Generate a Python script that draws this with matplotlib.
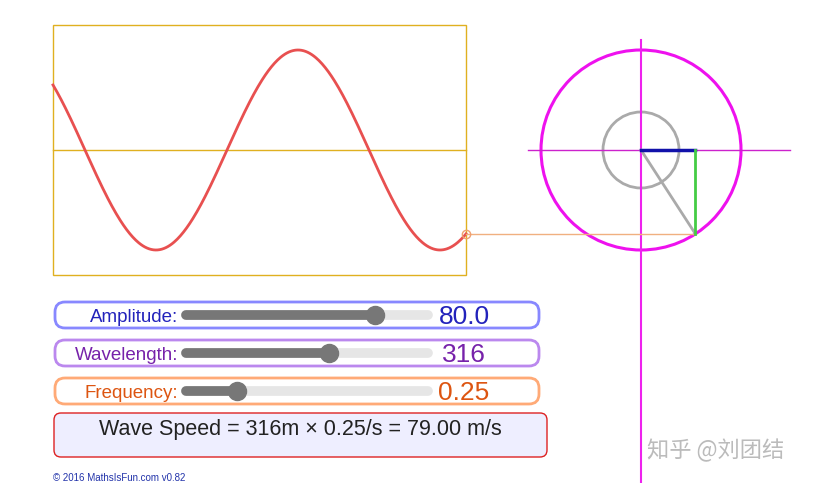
import numpy as np
import matplotlib.pyplot as plt
from matplotlib.patches import FancyBboxPatch, Circle, Rectangle

# slider values shown in the widget
labels = ['Amplitude:', 'Wavelength:', 'Frequency:']
values = ['80.0', '316', '0.25']
thumb_pos = [375, 329, 237]
label_colors = ['#2222bb', '#7722aa', '#dd5511']
glow_colors = ['#8888ff', '#bb88ee', '#ffaa77']
speed_text = 'Wave Speed = 316m \u00d7 0.25/s = 79.00 m/s'

# wave as drawn on screen (pixels)
wave_amp_px = 100
wave_len_px = 284
wave_x0 = 227

plt.rcParams['font.family'] = ['Noto Sans CJK SC', 'DejaVu Sans']
fig = plt.figure(figsize=(8.14, 4.83), dpi=100)
ax = fig.add_axes([0, 0, 1, 1])
ax.set_xlim(0, 814)
ax.set_ylim(483, 0)
ax.axis('off')

# wave box
ax.add_patch(Rectangle((53, 25), 413, 250, fill=False, ec='#e0b020', lw=1))
ax.plot([53, 466], [150, 150], color='#e0b020', lw=1)
x = np.linspace(53, 466, 400)
y = 150 - wave_amp_px * np.sin(2 * np.pi * (x - wave_x0) / wave_len_px)
ax.plot(x, y, color='#e85050', lw=2)
ye = y[-1]

# rotating circle
cx, cy, r = 641, 150, 100
ax.plot([cx, cx], [40, 483], color='#ee22ee', lw=1.5)
ax.plot([528, 790], [cy, cy], color='#cc22cc', lw=1)
ax.add_patch(Circle((cx, cy), r, fill=False, ec='#ee11ee', lw=2.2))
ax.add_patch(Circle((cx, cy), 38, fill=False, ec='#aaaaaa', lw=2))
px = cx + np.sqrt(r**2 - (ye - cy)**2)
ax.plot([466, px], [ye, ye], color='#f0b080', lw=1)
ax.plot([466], [ye], 'o', mfc='none', mec='#f0a070', ms=6)
ax.plot([cx, px], [cy, ye], color='#aaaaaa', lw=2)
ax.plot([cx, px], [cy, cy], color='#1111aa', lw=2.5)
ax.plot([px, px], [cy, ye], color='#44cc44', lw=2)

# sliders
for i, (lab, val) in enumerate(zip(labels, values)):
    top = 300 + 38 * i
    ax.add_patch(FancyBboxPatch((55, top + 2), 484, 26, boxstyle='round,pad=0,rounding_size=10',
                                fc='white', ec=glow_colors[i], lw=2))
    ax.text(178, top + 18, lab, color=label_colors[i], fontsize=13.5, ha='right', va='center',
            family='Liberation Sans')
    ax.plot([186, 428], [top + 15, top + 15], color='#e6e6e6', lw=7, solid_capstyle='round')
    ax.plot([186, thumb_pos[i]], [top + 15, top + 15], color='#777777', lw=7, solid_capstyle='round')
    ax.plot([thumb_pos[i]], [top + 15], 'o', color='#777777', ms=13)
    ax.text(464, top + 17, val, color=label_colors[i], fontsize=19, ha='center', va='center',
            family='Liberation Sans')

ax.add_patch(FancyBboxPatch((54, 413), 493, 44, boxstyle='round,pad=0,rounding_size=7',
                            fc='#eeeeff', ec='#dd2222', lw=1))
ax.text(300, 430, speed_text, fontsize=15.5, ha='center', va='center', color='#222222',
        family='Liberation Sans')
ax.text(53, 478, '\u00a9 2016 MathsIsFun.com v0.82', fontsize=7, color='#2233aa', va='center',
        family='Liberation Sans')

ax.text(716, 450, '知乎 @刘团结', fontsize=16, color='#aaaaaa', ha='center', va='center', alpha=0.8)

fig.savefig('out.png', dpi=100)
